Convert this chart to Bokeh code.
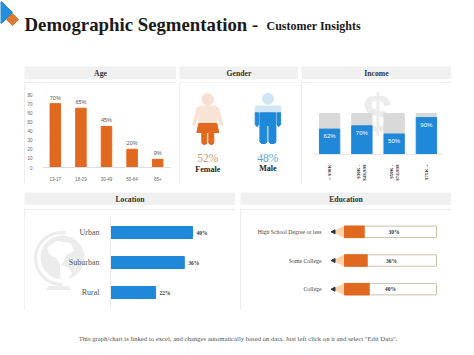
import numpy as np
from bokeh.plotting import figure
from bokeh.layouts import column, row
from bokeh.models import (Range1d, FactorRange)
from bokeh.core.properties import value
from bokeh.embed import file_html
from bokeh.resources import INLINE

TITLE_MAIN = "Demographic Segmentation -"
TITLE_SUB = "Customer Insights"
FOOTER = 'This graph/chart is linked to excel, and changes automatically based on data. Just left click on it and select "Edit Data".'

AGE_CATS = ["13-17", "18-29", "30-49", "50-64", "65+"]
AGE_VALS = [70, 65, 45, 20, 9]
AGE_TICKS = [0, 10, 20, 30, 40, 50, 60, 70, 80]

GENDER_CATS = ["Female", "Male"]
GENDER_VALS = [52, 48]

INCOME_CATS = ["< $30K", "$30K -\n$49,999", "$50K -\n$74,999", "$75K +"]
INCOME_VALS = [62, 70, 50, 90]
INCOME_REST = [38, 30, 50, 10]

LOC_CATS = ["Urban", "Suburban", "Rural"]
LOC_VALS = [40, 36, 22]

EDU_CATS = ["High School Degree or less", "Some College", "College"]
EDU_VALS = [30, 36, 40]

ORANGE = "#e0691f"
BLUE = "#2088d8"
SERIF = "Liberation Serif"
PANEL = {"outline": "1px solid #e6e6e6", "outline-offset": "-1px"}


def pct(vals):
    return [f"{v}%" for v in vals]


def strip(name, w):
    p = figure(width=w, height=13, x_range=(0, 1), y_range=(0, 1), toolbar_location=None,
               output_backend="svg", x_axis_type=None, y_axis_type=None, min_border=0,
               background_fill_color="#f0f0f0", outline_line_color=None, frame_align=False)
    p.grid.visible = False
    p.text(x=[0.5], y=[0.5], text=[name], text_align="center", text_baseline="middle",
           text_font=value(SERIF), text_font_style="bold", text_font_size="7.7px", text_color="#333333")
    return p


# ---- title ----
head = figure(width=458, height=66, x_range=(0, 458), y_range=(66, 0), toolbar_location=None,
              output_backend="svg", x_axis_type=None, y_axis_type=None, min_border=0,
              outline_line_color=None, frame_align=False)
head.grid.visible = False
head.patch([-10, 1, 12, 1], [12, 1, 12, 23], color="#2490dc")
head.patch([6, 12, 18, 12], [19, 13, 19, 25], color="#e07a30")
head.text(x=[24], y=[24], text=[TITLE_MAIN], text_baseline="middle", text_font=value(SERIF),
          text_font_style="bold", text_font_size="18.8px", text_color="#1a1a1a")
head.text(x=[266], y=[25], text=[TITLE_SUB], text_baseline="middle", text_font=value(SERIF),
          text_font_style="bold", text_font_size="12px", text_color="#1a1a1a")

# ---- age ----
age = figure(width=152, height=101, x_range=FactorRange(*AGE_CATS), y_range=Range1d(0, 80),
             toolbar_location=None, output_backend="svg", min_border_left=16, min_border_right=6,
             min_border_top=12, min_border_bottom=13, outline_line_color=None, frame_align=False,
             styles=PANEL)
age.grid.visible = False
age.vbar(x=AGE_CATS, top=AGE_VALS, width=0.41, color=ORANGE)
age.text(x=AGE_CATS, y=AGE_VALS, text=pct(AGE_VALS), y_offset=-3, text_align="center",
         text_baseline="bottom", text_font_size="5.5px", text_color="#555555", text_font=value("Liberation Sans"))
age.yaxis.ticker = AGE_TICKS
age.yaxis.axis_line_color = None
age.yaxis.major_tick_line_color = None
age.yaxis.minor_tick_line_color = None
age.yaxis.major_label_standoff = 4
age.xaxis.axis_line_color = "#dddddd"
age.xaxis.major_tick_line_color = None
age.xaxis.major_label_standoff = 3
for a in (age.xaxis, age.yaxis):
    a.major_label_text_font_size = "4.5px"
    a.major_label_text_color = "#666666"
    a.major_label_text_font = "Liberation Sans"

# ---- gender ----
gen = figure(width=119, height=101, x_range=(179, 298), y_range=(183, 82), toolbar_location=None,
             output_backend="svg", x_axis_type=None, y_axis_type=None, min_border=0,
             outline_line_color=None, frame_align=False, styles=PANEL)
gen.grid.visible = False
fx = 207.3
mx = 267.4
fup = [(-7, 105.5), (7, 105.5), (11, 108), (15, 124), (13, 125), (9, 114), (8.5, 114), (9, 123),
       (-9, 123), (-8.5, 114), (-9, 114), (-13, 125), (-15, 124), (-11, 108)]
flo = [(-9, 123), (9, 123), (11, 132), (6, 132), (6, 142.5), (4.5, 144), (2.5, 144), (1, 142.5), (1, 132),
       (-1, 132), (-1, 142.5), (-2.5, 144), (-4.5, 144), (-6, 142.5), (-6, 132), (-11, 132)]
gen.scatter([fx], [99], size=11.5, color="#f6e0d2")
gen.patch([fx + a for a, b in fup], [b for a, b in fup], color="#f9e3d4")
gen.patch([fx + a for a, b in flo], [b for a, b in flo], color=ORANGE)
gen.scatter([mx], [98.3], size=11, color="#cfe6f5")
gen.patch([mx - 12.7, mx + 12.7, mx + 12.7, mx - 12.7], [105.7, 105.7, 112.3, 112.3], color="#cfe6f5")
mlo = [(-8, 112.3), (8, 112.3), (8, 141.5), (6.5, 143), (2.5, 143), (1, 141.5), (1, 125),
       (-1, 125), (-1, 141.5), (-2.5, 143), (-6.5, 143), (-8, 141.5)]
gen.patch([mx + a for a, b in mlo], [b for a, b in mlo], color=BLUE)
for s in (-1, 1):
    arm = [(9.2, 112.3), (12.7, 112.3), (12.7, 124), (11, 126), (10.5, 126), (9.2, 124)]
    gen.patch([mx + s * a for a, b in arm], [b for a, b in arm], color=BLUE)
gen.text(x=[fx, mx], y=[157, 157], text=pct(GENDER_VALS), text_align="center", text_baseline="middle",
         text_font=value(SERIF), text_font_size="11.5px", text_color=["#d59a68", "#5ca6cf"])
gen.text(x=[fx, mx], y=[169, 167.5], text=GENDER_CATS, text_align="center", text_baseline="middle",
         text_font=value(SERIF), text_font_style="bold", text_font_size="8px", text_color="#222222")

# ---- income ----
inc = figure(width=150, height=101, x_range=FactorRange(*INCOME_CATS), y_range=Range1d(0, 175.6),
             toolbar_location=None, output_backend="svg", y_axis_type=None, min_border_left=12,
             min_border_right=9, min_border_top=0, min_border_bottom=29, outline_line_color=None,
             frame_align=False, styles=PANEL)
inc.grid.visible = False
inc.text(x=[INCOME_CATS[1]], y=[100], text=["$"], x_offset=16, text_align="center", text_baseline="middle",
         text_font=value("Liberation Sans"), text_font_style="bold", text_font_size="54px",
         text_color="#ececec")
inc.vbar(x=INCOME_CATS, bottom=INCOME_VALS, top=[a + b for a, b in zip(INCOME_VALS, INCOME_REST)],
         width=0.63, color="#d9d9d9")
inc.vbar(x=INCOME_CATS, top=INCOME_VALS, width=0.63, color=BLUE)
inc.text(x=INCOME_CATS, y=[v - 17 for v in INCOME_VALS], text=pct(INCOME_VALS), text_align="center",
         text_baseline="middle", text_font_size="6px", text_color="#ffffff",
         text_font=value("Liberation Sans"))
inc.xaxis.axis_line_color = "#e8e8e8"
inc.xaxis.major_tick_line_color = None
inc.xaxis.major_label_orientation = np.pi / 2
inc.xaxis.major_label_standoff = 4
inc.xaxis.major_label_text_font_size = "5px"
inc.xaxis.major_label_text_font_style = "bold"
inc.xaxis.major_label_text_color = "#333333"
inc.xaxis.major_label_text_font = SERIF

# ---- location ----
LOC_SCALE = 2.05  # px per percent
loc_f = list(reversed(LOC_CATS))
loc = figure(width=211, height=100, x_range=Range1d(-86 / LOC_SCALE, 125 / LOC_SCALE),
             y_range=FactorRange(*loc_f), toolbar_location=None, output_backend="svg",
             x_axis_type=None, min_border_left=0, min_border_right=0, min_border_top=8,
             min_border_bottom=2, outline_line_color=None, frame_align=False, styles=PANEL)
loc.grid.visible = False


def gpx(v):
    return (np.asarray(v, dtype=float) - 110) / LOC_SCALE


def gpy(v):
    return (307 - np.asarray(v, dtype=float)) / 30  # synthetic coordinate: one factor per 30 px


GLOBE = "#ececec"
th = np.linspace(0, 2 * np.pi, 72)
a = np.linspace(np.pi * 0.45, np.pi * 1.5, 40)
loc.patch(gpx(np.r_[61 + 27 * np.cos(a), (61 + 24.8 * np.cos(a))[::-1]]),
          gpy(np.r_[258 - 27 * np.sin(a), (258 - 24.8 * np.sin(a))[::-1]]), color=GLOBE)
loc.patch(gpx(62 + 21.5 * np.cos(th)), gpy(257 + 21.5 * np.sin(th)), color=GLOBE)
loc.patch(gpx([47, 56, 70, 73, 66, 62, 60, 56, 50]), gpy([247, 241, 243, 250, 254, 262, 264, 257, 254]),
          color="#ffffff")
loc.patch(gpx([60, 69, 71, 64, 61, 60]), gpy([265, 268, 273, 282, 281, 272]), color="#ffffff")
loc.patch(gpx([48, 68, 70, 46]), gpy([286, 286, 289, 289]), color=GLOBE)
loc.hbar(y=LOC_CATS, left=0, right=LOC_VALS, height=0.4, color=BLUE)
loc.text(x=LOC_VALS, y=LOC_CATS, text=pct(LOC_VALS), x_offset=4, text_baseline="middle",
         text_font=value(SERIF), text_font_style="bold", text_font_size="5.5px", text_color="#333333")
loc.yaxis.fixed_location = 0
loc.yaxis.axis_line_color = "#e8e8e8"
loc.yaxis.major_tick_line_color = None
loc.yaxis.major_label_standoff = 5
loc.yaxis.major_label_text_font = SERIF
loc.yaxis.major_label_text_font_size = "8px"
loc.yaxis.major_label_text_color = "#555555"

# ---- education ----
PX0, PXS = 348.7, 0.5
edu_f = list(reversed(EDU_CATS))
edu = figure(width=211, height=100, x_range=Range1d(330, 445), y_range=FactorRange(*edu_f),
             toolbar_location=None, output_backend="svg", x_axis_type=None,
             min_border_left=90, min_border_right=6, min_border_top=8, min_border_bottom=6,
             outline_line_color=None, frame_align=False, styles=PANEL)
edu.grid.visible = False
edu.extra_x_ranges = {"pct": Range1d((330 - PX0) / PXS, (445 - PX0) / PXS)}
edu.yaxis.axis_line_color = None
edu.yaxis.major_tick_line_color = None
edu.yaxis.major_label_standoff = 3
edu.yaxis.major_label_text_font = SERIF
edu.yaxis.major_label_text_font_size = "5.8px"
edu.yaxis.major_label_text_color = "#444444"
for i in range(len(EDU_CATS)):
    c = i + 0.5  # synthetic coordinate of the factor on the categorical scale
    edu.patch([344, 436, 436, 344], [c - 0.2, c - 0.2, c + 0.2, c + 0.2], fill_color="#ffffff",
              line_color="#cbc2ad", line_width=1)
    edu.patch([333, 344, 344], [c, c - 0.2, c + 0.2], color="#fbd3ab")
    edu.patch([330.5, 334.5, 334.5], [c, c - 0.07, c + 0.07], color="#333333")
edu.hbar(y=EDU_CATS, left=(344 - PX0) / PXS, right=EDU_VALS, height=0.4, color=ORANGE,
         x_range_name="pct")
edu.text(x=[393.5, 391, 390], y=EDU_CATS, text=pct(EDU_VALS), text_align="center", text_baseline="middle",
         text_font=value(SERIF), text_font_style="bold", text_font_size="5.5px",
         text_color="#333333")

# ---- footer ----
foot = figure(width=458, height=36, x_range=(0, 458), y_range=(345, 309), toolbar_location=None,
              output_backend="svg", x_axis_type=None, y_axis_type=None, min_border=0, outline_line_color=None,
              frame_align=False)
foot.grid.visible = False
foot.text(x=[237.5], y=[338], text=[FOOTER], text_align="center", text_baseline="middle",
          text_font=value(SERIF), text_font_size="6.7px", text_color="#555555")

row1 = row(column(strip("Age", 152), age, spacing=3, margin=(0, 3, 0, 24)),
           column(strip("Gender", 119), gen, spacing=3, margin=(0, 3, 0, 0)),
           column(strip("Income", 150), inc, spacing=3))
row2 = row(column(strip("Location", 211), loc, spacing=4, margin=(9, 5, 0, 24)),
           column(strip("Education", 211), edu, spacing=4, margin=(9, 0, 0, 0)))
page = column(head, row1, row2, foot)

open("out.html", "w").write(file_html(page, INLINE))
